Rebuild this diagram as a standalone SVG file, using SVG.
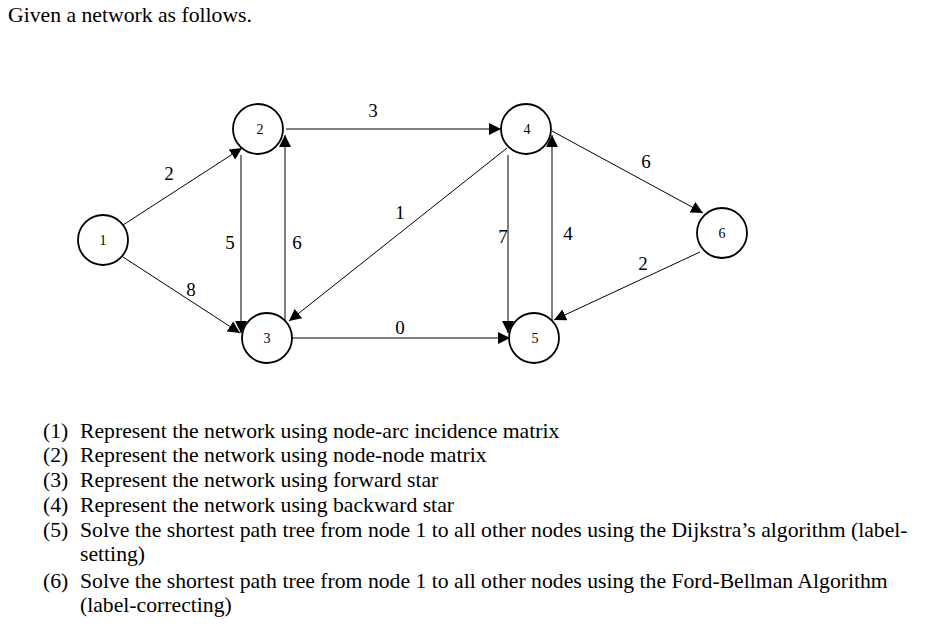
<svg xmlns="http://www.w3.org/2000/svg" width="938" height="642" viewBox="0 0 938 642">
<style>
.n{fill:#fff;stroke:#000;stroke-width:1.8}
.nt{font:14px "Liberation Serif",serif;text-anchor:middle}
.e{stroke:#000;stroke-width:1;fill:none;marker-end:url(#a)}
.l{font:19px "Liberation Serif",serif;text-anchor:middle}
.t{font:21.7px "Liberation Serif",serif}
</style>
<defs><marker id="a" viewBox="0 0 10 10" refX="10" refY="5" markerWidth="12" markerHeight="12" markerUnits="userSpaceOnUse" orient="auto"><path d="M0,0L10,5L0,10z"/></marker></defs>
<rect width="938" height="642" fill="#fff"/>
<text class="t" x="8" y="22">Given a network as follows.</text>
<g id="connectors">
<path class="e" d="M123,225L242,148"/>
<path class="e" d="M123,257L240,333"/>
<path class="e" d="M241,155V333"/>
<path class="e" d="M285,325V135"/>
<path class="e" d="M286,129H501"/>
<path class="e" d="M507,148L289,321"/>
<path class="e" d="M508,155V333"/>
<path class="e" d="M552,325V135"/>
<path class="e" d="M292,338H510"/>
<path class="e" d="M552,131L703,213"/>
<path class="e" d="M700,252L554,320"/>
<text class="l" x="373" y="117">3</text>
<text class="l" x="169" y="180">2</text>
<text class="l" x="191" y="296">8</text>
<text class="l" x="230" y="249">5</text>
<text class="l" x="297" y="249">6</text>
<text class="l" x="400" y="219">1</text>
<text class="l" x="503" y="243">7</text>
<text class="l" x="568" y="240">4</text>
<text class="l" x="646" y="168">6</text>
<text class="l" x="643" y="270">2</text>
<text class="l" x="400" y="334">0</text>
</g>
<g id="node1"><circle class="n" cx="103" cy="240" r="25"/><text class="nt" x="103" y="245">1</text></g>
<g id="node2"><circle class="n" cx="258" cy="129" r="25"/><text class="nt" x="260" y="134">2</text></g>
<g id="node3"><circle class="n" cx="267" cy="338" r="25"/><text class="nt" x="267" y="343">3</text></g>
<g id="node4"><circle class="n" cx="526" cy="129" r="25"/><text class="nt" x="527" y="134">4</text></g>
<g id="node5"><circle class="n" cx="534" cy="338" r="25"/><text class="nt" x="535" y="343">5</text></g>
<g id="node6"><circle class="n" cx="722" cy="233" r="25"/><text class="nt" x="722" y="238">6</text></g>
<g class="t">
<text x="43" y="438">(1)</text><text x="80" y="438">Represent the network using node-arc incidence matrix</text>
<text x="43" y="462">(2)</text><text x="80" y="462">Represent the network using node-node matrix</text>
<text x="43" y="487">(3)</text><text x="80" y="487">Represent the network using forward star</text>
<text x="43" y="512">(4)</text><text x="80" y="512">Represent the network using backward star</text>
<text x="43" y="537">(5)</text><text x="80" y="537">Solve the shortest path tree from node 1 to all other nodes using the Dijkstra’s algorithm (label-</text>
<text x="80" y="561">setting)</text>
<text x="43" y="588">(6)</text><text x="80" y="588">Solve the shortest path tree from node 1 to all other nodes using the Ford-Bellman Algorithm</text>
<text x="80" y="612">(label-correcting)</text>
</g>
</svg>
